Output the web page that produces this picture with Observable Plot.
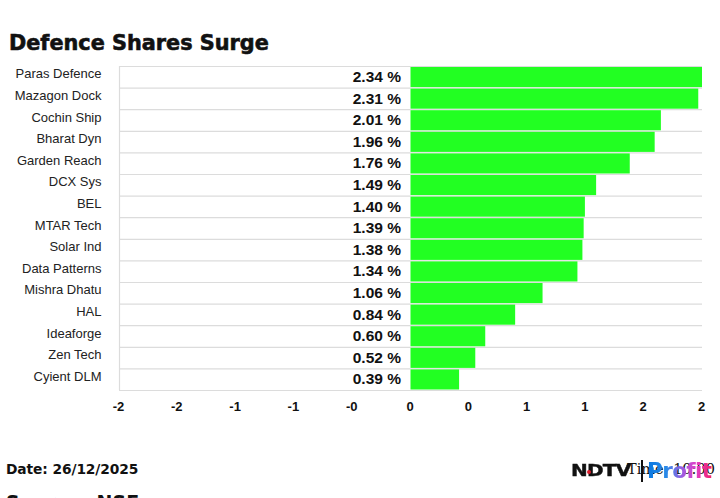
<!DOCTYPE html>
<html><head><meta charset="utf-8">
<script src="https://cdn.jsdelivr.net/npm/d3@7"></script>
<script src="https://cdn.jsdelivr.net/npm/@observablehq/plot@0.6"></script>
<style>
html,body{margin:0;padding:0;background:#fff;width:720px;height:498px;overflow:hidden}
#wrap{position:relative;width:720px;height:498px;overflow:hidden}
#chart{position:absolute;left:0;top:56px}
.t{position:absolute;white-space:nowrap}
#title{left:9px;top:30px;font:700 20.8px/26px "DejaVu Sans",sans-serif;color:#111;-webkit-text-stroke:.6px #111}
#date{left:6px;top:461px;font:700 13.8px/17px "DejaVu Sans",sans-serif;color:#111;letter-spacing:-.1px}
#source{left:6px;top:491px;font:700 19px/22px "DejaVu Sans",sans-serif;color:#111;word-spacing:-2px}
#time{left:627px;top:461px;font:400 14.5px/17px "DejaVu Serif",serif;color:#111}
#ndtv{left:571px;top:461px;font:700 16px/20px "DejaVu Sans",sans-serif;color:#111;letter-spacing:-.6px;-webkit-text-stroke:.4px #111;transform-origin:left center;transform:scaleX(1.25)}
#dot{left:587px;top:470px;width:4px;height:4px;border-radius:50%;background:#e01e2d}
#bar{left:641px;top:460px;width:1.5px;height:22px;background:#111}
#profit{left:647px;top:459px;font:700 21.5px/24px "DejaVu Sans",sans-serif;letter-spacing:-.6px;background:linear-gradient(90deg,#0a78e0 0%,#2a8ae8 30%,#a05be0 55%,#e040c8 75%,#f0206a 100%);-webkit-background-clip:text;background-clip:text;color:transparent}
</style></head><body>
<div id="wrap">
<div class="t" id="title">Defence Shares Surge</div>
<div id="chart"></div>
<div class="t" id="date">Date: 26/12/2025</div>
<div class="t" id="source">Source : NSE</div>
<div class="t" id="time">Time: 10:00</div>
<div class="t" id="ndtv">NDTV</div>
<div class="t" id="dot"></div>
<div class="t" id="bar"></div>
<div class="t" id="profit">Profit</div>
</div>
<script>
const companies = ["Paras Defence","Mazagon Dock","Cochin Ship","Bharat Dyn","Garden Reach","DCX Sys","BEL","MTAR Tech","Solar Ind","Data Patterns","Mishra Dhatu","HAL","Ideaforge","Zen Tech","Cyient DLM"];
const changes = [2.34,2.31,2.01,1.96,1.76,1.49,1.40,1.39,1.38,1.34,1.06,0.84,0.60,0.52,0.39];
const xTicks = [-2.34,-1.872,-1.404,-0.936,-0.468,0,0.468,0.936,1.404,1.872,2.34];
const xLabels = ["-2","-2","-1","-1","-0","0","0","1","1","2","2"];
const rows = companies.map((name,i)=>({name,change:changes[i]}));
const tickRows = xTicks.map((v,i)=>({v,label:xLabels[i]}));
const plot = Plot.plot({
  width:720,height:360,
  marginLeft:119,marginRight:18,marginTop:10,marginBottom:26,
  style:{background:"#fff",overflow:"visible"},
  x:{domain:[-2.34,2.34],axis:null},
  y:{domain:companies,axis:null,padding:0,round:false},
  marks:[
    Plot.tickY(companies,{y:d=>d,dy:-10.8,stroke:"#dcdcdc",strokeWidth:1.2}),
    Plot.tickY(companies.slice(-1),{y:d=>d,dy:10.8,stroke:"#dcdcdc",strokeWidth:1.2}),
    Plot.ruleX([-2.34],{stroke:"#dcdcdc",strokeWidth:1.2}),
    Plot.barX(rows,{x1:()=>0,x2:"change",y:"name",fill:"#22ff22",insetTop:1,insetBottom:0.5}),
    Plot.text(rows,{x:()=>0,y:"name",text:d=>d.change.toFixed(2)+" %",textAnchor:"end",dx:-10,dy:-0.3,fontWeight:700,fontSize:15.5,fontFamily:"Liberation Sans",fill:"#111",style:{letterSpacing:"1.25px"}}),
    Plot.text(rows,{x:()=>-2.34,y:"name",text:"name",textAnchor:"end",dx:-18,dy:-3,fontSize:13,fontFamily:"Liberation Sans",fill:"#222",style:{letterSpacing:"0.55px"}}),
    Plot.text(tickRows,{x:"v",y:()=>companies[companies.length-1],text:"label",dx:-1,dy:27,fontWeight:700,fontSize:13,fontFamily:"Liberation Sans",fill:"#111"})
  ]
});
document.getElementById("chart").append(plot);
</script>
</body></html>
